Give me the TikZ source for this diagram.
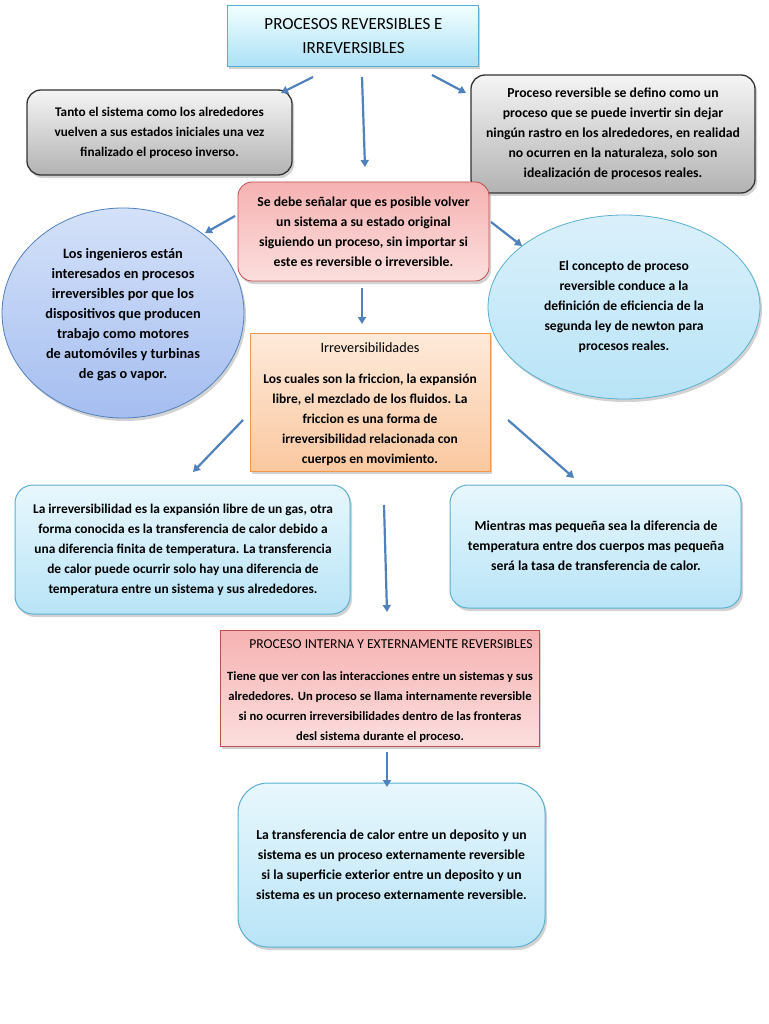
\documentclass[tikz,border=0pt]{standalone}
\usepackage{fontspec}
\setmainfont{Carlito}
\usetikzlibrary{shadows,arrows.meta}
\definecolor{arrowc}{HTML}{4F81BD}
\definecolor{cyanbd}{HTML}{5AAFD0}
\definecolor{redbd}{HTML}{C0504D}
\tikzset{
  x=1pt,y=-1pt,
  base/.style={drop shadow={opacity=0.35,shadow xshift=2pt,shadow yshift=-3pt}},
  titlebox/.style={base,draw=cyanbd,line width=0.8pt,top color=cyan!5!white,bottom color={rgb,255:red,172;green,224;blue,246}},
  graybox/.style={base,draw=black!80,line width=1.3pt,rounded corners=14pt,top color=white!96!black,bottom color=black!30},
  redbox/.style={base,draw=redbd,line width=0.8pt,top color={rgb,255:red,246;green,178;blue,178},bottom color={rgb,255:red,252;green,222;blue,222}},
  orangebox/.style={base,draw={rgb,255:red,247;green,150;blue,70},line width=0.8pt,top color={rgb,255:red,253;green,234;blue,218},bottom color={rgb,255:red,251;green,200;blue,160}},
  cyanbox/.style={base,draw=cyanbd,line width=1pt,rounded corners=18pt,top color={rgb,255:red,232;green,247;blue,253},bottom color={rgb,255:red,184;green,228;blue,247}},
  blueell/.style={base,draw=arrowc,line width=0.8pt,top color={rgb,255:red,212;green,225;blue,249},bottom color={rgb,255:red,165;green,190;blue,240}},
  cyanell/.style={base,draw=cyanbd,line width=0.8pt,top color={rgb,255:red,218;green,240;blue,251},bottom color={rgb,255:red,184;green,228;blue,247}},
  txt/.style={align=center,inner sep=0pt,font=\bfseries\fontsize{#1}{20}\selectfont},
  ttl/.style={align=center,inner sep=0pt,font=\fontsize{#1}{20}\selectfont},
  conn/.style={draw=arrowc,line width=2.2pt,-{Triangle[length=7pt,width=8pt]}},
}
\begin{document}
\begin{tikzpicture}
\useasboundingbox (0,0) rectangle (768,1024);
\fill[white] (0,0) rectangle (768,1024);

% title
\path[titlebox] (227,5) rectangle (478,66);
\node[align=center,font=\fontsize{17}{23.5}\selectfont] (title) at (353.5,36) {PROCESOS REVERSIBLES E\\IRREVERSIBLES};

% left gray
\path[graybox] (27,90) rectangle (292,175);
\node[txt=13.2] (lg) at (159.5,133) {Tanto el sistema como los alrededores\\vuelven a sus estados iniciales una vez\\finalizado el proceso inverso.};

% right gray
\path[graybox] (471,75) rectangle (755,193);
\node[txt=13.7] (rg) at (613,134) {Proceso reversible se defino como un\\proceso que se puede invertir sin dejar\\ningún rastro en los alrededores, en realidad\\no ocurren en la naturaleza, solo son\\idealización de procesos reales.};

% center red
\path[redbox,rounded corners=14pt] (238,182) rectangle (489,281);
\node[txt=13.7] (cr) at (363.5,232) {Se debe señalar que es posible volver\\un sistema a su estado original\\siguiendo un proceso, sin importar si\\este es reversible o irreversible.};

% left ellipse
\path[blueell] (123,313) ellipse [x radius=121,y radius=105];
\node[txt=14.3] (le) at (123,315) {Los ingenieros están\\interesados en procesos\\irreversibles por que los\\dispositivos que producen\\trabajo como motores\\de automóviles y turbinas\\de gas o vapor.};

% right ellipse
\path[cyanell] (624,307) ellipse [x radius=136,y radius=92];
\node[txt=13.6] (re) at (624,307) {El concepto de proceso\\reversible conduce a la\\definición de eficiencia de la\\segunda ley de newton para\\procesos reales.};

% irreversibilidades
\path[orangebox] (250,333) rectangle (490,471);
\node[ttl=14.2] (irt) at (370,348) {Irreversibilidades};
\node[txt=13.5] (irb) at (370,420) {Los cuales son la friccion, la expansión\\libre, el mezclado de los fluidos. La\\friccion es una forma de\\irreversibilidad relacionada con\\cuerpos en movimiento.};

% lower left
\path[cyanbox] (15,485) rectangle (350,614);
\node[txt=13.4] (ll) at (183,550) {La irreversibilidad es la expansión libre de un gas, otra\\forma conocida es la transferencia de calor debido a\\una diferencia finita de temperatura. La transferencia\\de calor puede ocurrir solo hay una diferencia de\\temperatura entre un sistema y sus alrededores.};

% lower right
\path[cyanbox] (450,485) rectangle (741,608);
\node[txt=13.7] (lr) at (596,546) {Mientras mas pequeña sea la diferencia de\\temperatura entre dos cuerpos mas pequeña\\será la tasa de transferencia de calor.};

% proceso interna
\path[redbox] (220,630) rectangle (539,746);
\node[ttl=13.6] (pit) at (391,644) {PROCESO INTERNA Y EXTERNAMENTE REVERSIBLES};
\node[txt=12.6] (pib) at (380,707) {Tiene que ver con las interacciones entre un sistemas y sus\\alrededores. Un proceso se llama internamente reversible\\si no ocurren irreversibilidades dentro de las fronteras\\desl sistema durante el proceso.};

% bottom
\path[cyanbox,rounded corners=30pt] (238,783) rectangle (545,947);
\node[txt=13.7] (bt) at (391.5,866) {La transferencia de calor entre un deposito y un\\sistema es un proceso externamente reversible\\si la superficie exterior entre un deposito y un\\sistema es un proceso externamente reversible.};

% arrow coordinates
\coordinate (a1s) at (313,77); \coordinate (a1e) at (281,93);
\coordinate (a2s) at (362,77); \coordinate (a2e) at (365,167);
\coordinate (a3s) at (432,75); \coordinate (a3e) at (466,93);
\coordinate (a4s) at (235,216); \coordinate (a4e) at (205,233);
\coordinate (a5s) at (491,222); \coordinate (a5e) at (522,246);
\coordinate (a6s) at (362,288); \coordinate (a6e) at (362,324);
\coordinate (a7s) at (243,420); \coordinate (a7e) at (193,472);
\coordinate (a8s) at (508,420); \coordinate (a8e) at (574,478);
\coordinate (a9s) at (384,505); \coordinate (a9e) at (387,612);
\coordinate (a10s) at (387,752); \coordinate (a10e) at (387,787);

\foreach \i in {1,...,10} {\draw[conn] (a\i s) -- (a\i e);}
\end{tikzpicture}
\end{document}
